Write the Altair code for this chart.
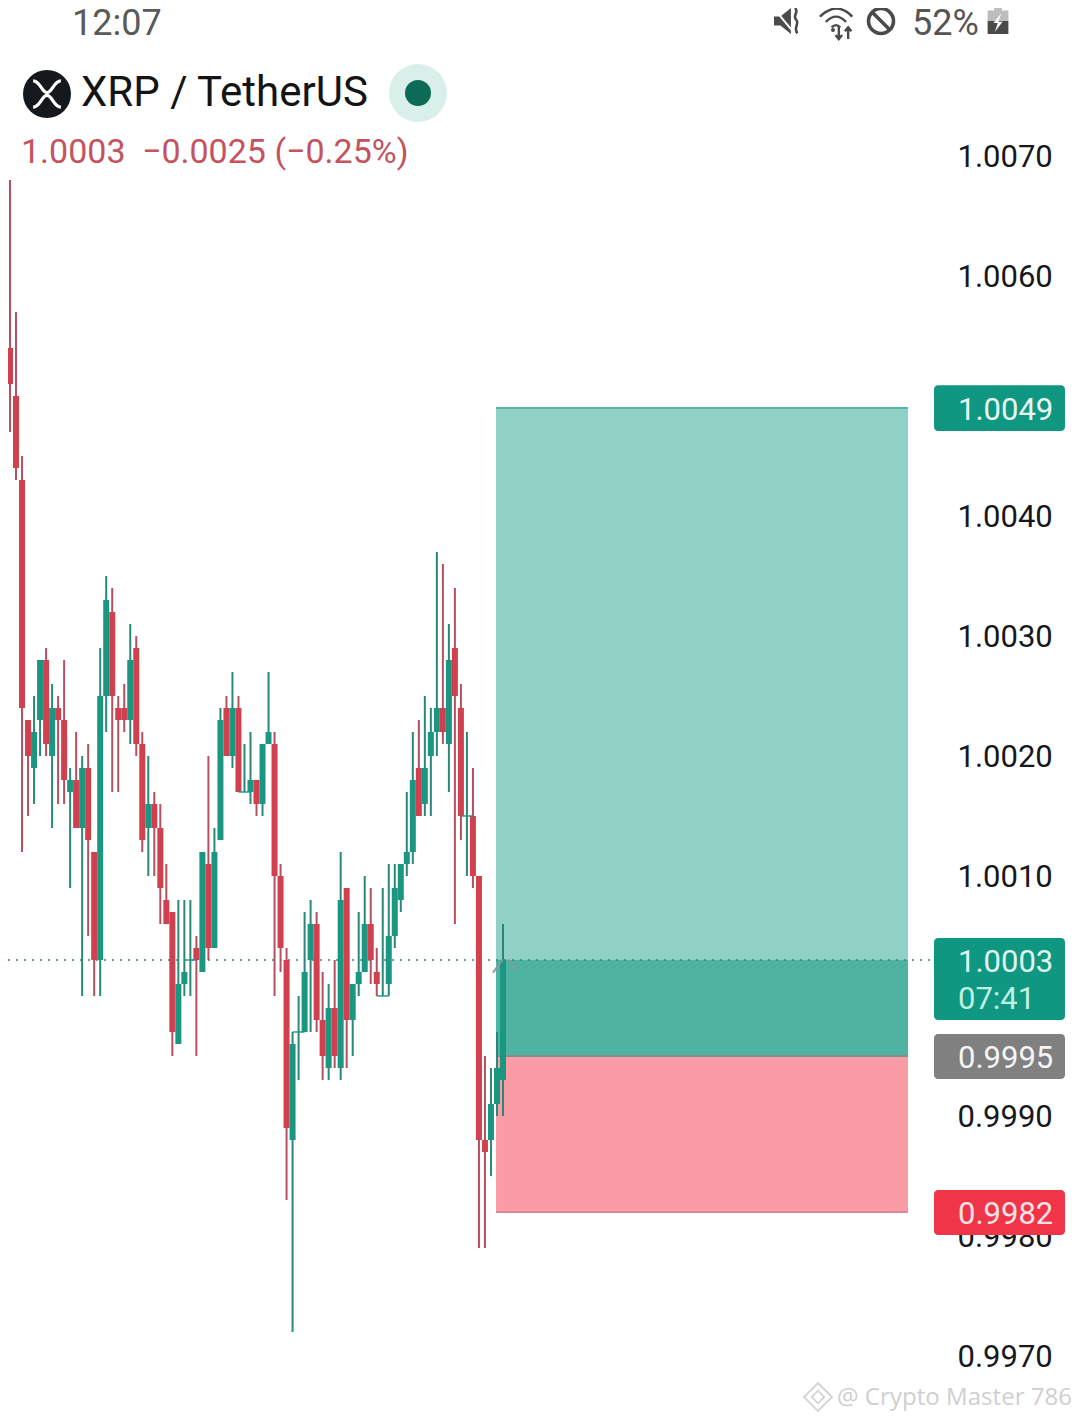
import altair as alt
import pandas as pd

# direction, high, body top, body bottom, low (prices)
dirs = [
 "g","r","r","r","r","g","g","r","g","r","r","g","r","g","r","r","g","g","r","r",
 "r","g","r","r","g","r","r","r","r","g","g","g","r","g","r","g","g","r","g","r",
 "g","g","r","g","g","r","r","r","g","g","g","g","r","r","g","r","g","r","g","g",
 "g","r","r","g","g","g","g","g","g","r","g","g","g","r","g","r","r","g","r","r",
 "r","g","g","g"]
high = [1.0056,1.0068,1.0057,1.0045,1.0023,1.0025,1.0028,1.0029,1.0026,1.0025,
        1.0028,1.0019,1.0022,1.0020,1.0021,1.0012,1.0029,1.0035,1.0034,1.0025,
        1.0026,1.0031,1.0030,1.0022,1.0020,1.0017,1.0016,1.0011,1.0007,1.0008,
        1.0008,1.0008,1.0005,1.0012,1.0020,1.0014,1.0024,1.0025,1.0027,1.0025,
        1.0021,1.0022,1.0018,1.0021,1.0027,1.0022,1.0011,1.0004,0.9997,1.0000,
        1.0007,1.0008,1.0007,1.0002,1.0001,1.0003,1.0012,1.0009,1.0001,1.0007,
        1.0010,1.0009,1.0004,1.0009,1.0011,1.0011,1.0011,1.0017,1.0022,1.0023,
        1.0025,1.0024,1.0037,1.0036,1.0031,1.0034,1.0026,1.0022,1.0019,1.0010,
        0.9995,0.9994,0.9997,1.0006]
top = [1.0054,1.0054,1.0050,1.0043,1.0023,1.0022,1.0028,1.0028,1.0024,1.0024,
       1.0023,1.0018,1.0018,1.0019,1.0019,1.0012,1.0025,1.0033,1.0032,1.0024,
       1.0024,1.0028,1.0029,1.0021,1.0016,1.0016,1.0014,1.0008,1.0007,1.0001,
       1.0002,1.0003,1.0004,1.0012,1.0011,1.0012,1.0023,1.0024,1.0024,1.0024,
       1.0017,1.0018,1.0018,1.0021,1.0022,1.0021,1.0010,1.0003,0.9996,0.9997,
       1.0002,1.0006,1.0006,0.9998,0.9999,0.9999,1.0008,1.0009,1.0001,1.0002,
       1.0006,1.0006,1.0002,1.0000,1.0005,1.0009,1.0011,1.0012,1.0018,1.0019,
       1.0019,1.0022,1.0024,1.0024,1.0028,1.0029,1.0024,1.0015,1.0015,1.0010,
       0.9988,0.9991,0.9994,1.0003]
bottom = [1.0047,1.0051,1.0044,1.0024,1.0020,1.0019,1.0023,1.0021,1.0020,1.0023,
          1.0018,1.0017,1.0014,1.0014,1.0013,1.0003,1.0003,1.0025,1.0025,1.0023,
          1.0023,1.0023,1.0021,1.0013,1.0014,1.0014,1.0009,1.0006,0.9997,0.9996,
          1.0001,1.0003,1.0003,1.0002,1.0004,1.0004,1.0013,1.0020,1.0020,1.0017,
          1.0017,1.0017,1.0016,1.0016,1.0021,1.0010,1.0004,0.9989,0.9988,0.9997,
          0.9997,1.0003,0.9998,0.9995,0.9994,0.9995,0.9994,0.9998,0.9998,1.0001,
          1.0002,1.0003,1.0001,1.0000,1.0001,1.0005,1.0008,1.0011,1.0012,1.0015,
          1.0016,1.0020,1.0022,1.0022,1.0021,1.0025,1.0015,1.0015,1.0010,0.9988,
          0.9987,0.9988,0.9991,0.9993]
low = [1.0043,1.0047,1.0043,1.0012,1.0015,1.0016,1.0020,1.0020,1.0014,1.0016,
       1.0016,1.0009,1.0014,1.0000,1.0005,1.0000,1.0000,1.0022,1.0017,1.0017,
       1.0022,1.0021,1.0020,1.0012,1.0010,1.0010,1.0006,1.0006,0.9995,0.9996,
       1.0000,1.0000,0.9995,1.0002,1.0003,1.0004,1.0013,1.0020,1.0019,1.0017,
       1.0017,1.0016,1.0015,1.0015,1.0021,1.0000,1.0002,0.9983,0.9972,0.9993,
       0.9997,0.9997,0.9997,0.9993,0.9993,0.9994,0.9993,0.9994,0.9995,1.0000,
       1.0002,1.0001,1.0000,1.0000,1.0000,1.0004,1.0007,1.0010,1.0011,1.0015,
       1.0015,1.0015,1.0020,1.0021,1.0017,1.0006,1.0013,1.0010,1.0009,0.9979,
       0.9979,0.9985,0.9990,0.9990]
tick_values = [1.007,1.006,1.004,1.003,1.002,1.001,0.999,0.998,0.997]

BODY = {"g": "#1b9681", "r": "#d0404f"}
WICK = {"g": "#2a8878", "r": "#b5505f"}

bars = pd.DataFrame({"i": range(len(high)), "d": dirs, "high": high, "top": top,
                     "bottom": bottom, "low": low})
bars["body_c"] = [BODY[d] for d in dirs]
bars["wick_c"] = [WICK[d] for d in dirs]

# plot-area geometry: page x = 4 + 6.012 i, page y = 960 - (p - 1.0003) * 120000
PW, PH = 945, 1405
xs = alt.Scale(domain=[4 / 6.012, (PW + 4) / 6.012], nice=False, zero=False, padding=0)
ys = alt.Scale(domain=[1.0003 - 453 / 120000, 1.0003 + 952 / 120000], nice=False, zero=False, padding=0)
price_axis = alt.Axis(
    orient="right", values=tick_values, format=".4f", labelFont="Roboto",
    labelFontSize=31, labelColor="#17181c", domain=False, ticks=False, grid=False,
    labelPadding=4, labelOffset=1, labelOverlap=False, labelFlush=False, labelBound=False, title=None)
X = lambda f: alt.X(f, type="quantitative", scale=xs, axis=None)
Y = lambda f: alt.Y(f, type="quantitative", scale=ys, axis=price_axis, title=None)
fixed = lambda f: alt.Color(f + ":N", scale=None, legend=None)

def px(x):
    return x - 8

# position tool zones
zones = pd.DataFrame({"x": [81.84] * 3, "x2": [150.37] * 3,
                      "y": [1.0049, 1.0003, 0.9995], "y2": [1.0003, 0.9995, 0.9982],
                      "c": ["#8fd1c4", "#50b3a1", "#f99ca6"]})
zone = alt.Chart(zones).mark_rect().encode(
    x=X("x"), x2="x2", y=Y("y"), y2="y2", color=fixed("c"))
lines = pd.DataFrame({"x": [81.84] * 3, "x2": [150.37] * 3,
                      "y": [1.0049, 0.9995, 0.9982], "c": ["#5fb3a2", "#7f8f8c", "#d98a95"]})
zone_lines = alt.Chart(lines).mark_rule(strokeWidth=2).encode(
    x=X("x"), x2="x2", y=Y("y"), color=fixed("c"))

price_line = alt.Chart(pd.DataFrame({"p": [1.0003]})).mark_rule(
    strokeWidth=1.6, strokeDash=[2, 6], color="#2a8878").encode(
    x=alt.value(0), x2=alt.value(px(934)), y=Y("p"))

wicks = alt.Chart(bars).mark_rule(strokeWidth=2).encode(
    x=X("i"), y=Y("high"), y2="low", color=fixed("wick_c"))
bodies = alt.Chart(bars).mark_bar(size=6).encode(
    x=X("i"), y=Y("top"), y2="bottom", color=fixed("body_c"))
doji = alt.Chart(bars[bars.top == bars.bottom]).mark_tick(orient="horizontal", size=12, thickness=2).encode(
    x=X("i"), y=Y("top"), color=fixed("body_c"))

# price badges on the scale
badges = pd.DataFrame({"y": [1.00509, 1.000483, 0.999683, 0.998383],
                       "y2": [1.004708, 0.9998, 0.999308, 0.998008],
                       "c": ["#0f9781", "#0f9781", "#808080", "#f03549"]})
badge = alt.Chart(badges).mark_rect(cornerRadius=4).encode(
    x=alt.value(px(934)), x2=alt.value(px(1065)), y=Y("y"), y2="y2", color=fixed("c"))

def label(text, x, y, size, color, font="Roboto", align="left", opacity=1.0):
    return alt.Chart(pd.DataFrame({"t": [text]})).mark_text(
        font=font, fontSize=size, color=color, align=align, baseline="middle", opacity=opacity
    ).encode(x=alt.value(px(x)), y=alt.value(px(y)), text="t:N")

def icon(path, x, y, span, color, filled=True, sw=2.0):
    kw = dict(shape=path, size=span ** 2, opacity=1)
    if filled:
        kw.update(filled=True, fill=color, strokeWidth=0)
    else:
        kw.update(filled=False, stroke=color, strokeWidth=sw, fillOpacity=0)
    return alt.Chart(pd.DataFrame({"a": [0]})).mark_point(**kw).encode(
        x=alt.value(px(x)), y=alt.value(px(y)))

def dot(x, y, d, color):
    return alt.Chart(pd.DataFrame({"a": [0]})).mark_point(
        shape="circle", size=d * d, filled=True, color=color, opacity=1
    ).encode(x=alt.value(px(x)), y=alt.value(px(y)))

DARK = "#4a4a4a"
texts = [
    label("1.0049", 958, 410.5, 31, "#e9f7f3"),
    label("1.0003", 958, 962.5, 31, "#dff5ef"),
    label("07:41", 958, 999.5, 31, "#bff0e3"),
    label("0.9995", 958, 1058.5, 31, "#f5f5f5"),
    label("0.9982", 958, 1214.5, 31, "#fbe4e6"),
    label("12:07", 72, 24, 36, "#5a5a5a"),
    label("52%", 912, 24, 36, "#555555"),
    label("XRP / TetherUS", 81, 93, 42, "#141414"),
    label("1.0003", 21, 153, 34, "#c4525f"),
    label("\u22120.0025 (\u22120.25%)", 142, 153, 34, "#c4525f"),
    label("@ Crypto Master 786", 837, 1398, 24.1, "#cfcfcf", font="Open Sans"),
]
icons = [
    dot(47, 94, 48, "#15181d"),
    icon("M-0.58,-0.55 C-0.28,-0.55 -0.22,-0.06 0,-0.06 C0.22,-0.06 0.28,-0.55 0.58,-0.55 "
         "M-0.58,0.55 C-0.28,0.55 -0.22,0.06 0,0.06 C0.22,0.06 0.28,0.55 0.58,0.55",
         47, 94, 48, "#ffffff", filled=False, sw=3.2),
    dot(418, 93, 58, "#d9efea"),
    dot(418, 93, 26, "#0b6b57"),
    # mute speaker with wave and slash
    icon("M-1,-0.35 L-0.5,-0.35 L0.3,-1 L0.3,1 L-0.5,0.35 L-1,0.35 Z", 787, 21, 26, DARK),
    icon("M0.62,-1 C0.95,-0.7 0.4,-0.4 0.7,-0.1 C1,0.2 0.45,0.5 0.8,0.95", 787, 21, 26, DARK, filled=False, sw=2.6),
    icon("M-0.95,-0.9 L0.5,0.85", 787, 21, 26, "#ffffff", filled=False, sw=2),
    # wifi
    icon("M-0.95,-0.3 Q0,-1.2 0.85,-0.3 M-0.62,0 Q-0.05,-0.6 0.5,0 M-0.3,0.3 Q-0.05,0.05 0.18,0.3 "
         "M0.1,0.25 L0.1,0.95 M-0.08,0.72 L0.1,0.95 L0.28,0.72 M0.62,0.95 L0.62,0.3 M0.44,0.52 L0.62,0.3 L0.8,0.52",
         837, 22, 36, DARK, filled=False, sw=2.4),
    dot(833, 30, 4, DARK),
    # do not disturb
    icon("M0,-1 A1,1 0 1 1 0,1 A1,1 0 1 1 0,-1 M-0.7,-0.7 L0.7,0.7", 881, 21, 25, DARK, filled=False, sw=3.6),
    # battery
    icon("M-0.8,-0.8 L-0.3,-0.8 L-0.3,-1 L0.3,-1 L0.3,-0.8 L0.8,-0.8 L0.8,0 L-0.8,0 Z", 998, 21, 26, "#bdbdbd"),
    icon("M-0.8,0 L0.8,0 L0.8,1 L-0.8,1 Z", 998, 21, 26, DARK),
    icon("M0.25,-0.6 L-0.35,0.15 L-0.02,0.15 L-0.25,0.85 L0.35,0.05 L0.02,0.05 Z", 998, 21, 26, "#ffffff"),
    # chevron on the last bar
    icon("M-1,0.55 L-0.2,-0.55 M0.25,-0.55 L1,0.4", 505, 966, 24, "#8a9a96", filled=False, sw=1.8),
    # watermark diamond
    icon("M0,-1 L1,0 L0,1 L-1,0 Z M0,-0.45 L0.45,0 L0,0.45 L-0.45,0 Z", 818, 1397, 28, "#d4d4d4", filled=False, sw=1.8),
]

chart = alt.layer(
    zone, zone_lines, price_line, wicks, bodies, doji, badge, *icons, *texts
).properties(
    width=PW, height=PH,
    padding={"left": 0, "top": 0, "right": 119, "bottom": 0},
    autosize=alt.AutoSizeParams(type="none"),
    background="#ffffff",
).configure_view(stroke=None)

chart.save("out.html", embed_options={"renderer": "svg", "actions": False})
